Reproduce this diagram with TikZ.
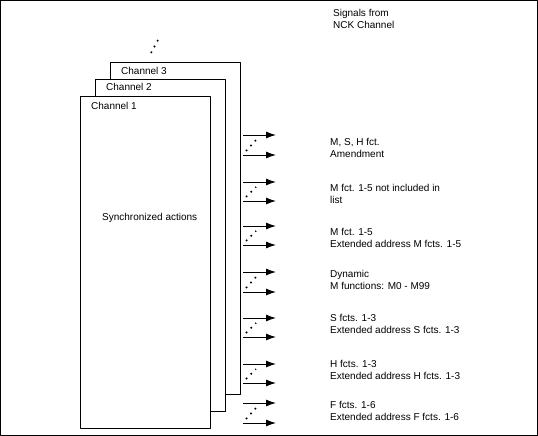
\documentclass[tikz,border=0pt]{standalone}
\usepackage{fontspec}
\setmainfont{Liberation Sans}
\usetikzlibrary{arrows.meta}

\begin{document}
\begin{tikzpicture}[x=1pt,y=-1pt,line join=round,
    txt/.style={anchor=west,inner sep=0pt,align=left,font=\fontsize{10}{12}\selectfont},
    chbox/.style={draw,fill=white,line width=1pt,anchor=north west,inner sep=0pt,
      minimum width=130pt,minimum height=332pt},
    sig/.style={line width=1pt,-{Latex[length=10pt,width=7pt]}},
    dots/.style={line width=1.6pt,dash pattern=on 1.6pt off 5pt}]
  \draw[line width=1pt] (0.5,0.5) rectangle (537.5,435.5);
  % stacked channels, back to front
  \node[chbox] (ch3) at (110,62) {};
  \node[chbox] (ch2) at (95,79) {};
  \node[chbox] (ch1) at (80,96) {};
  \node[txt] (ch3lbl) at (121,71) {Channel 3};
  \node[txt] (ch2lbl) at (106,87) {Channel 2};
  \node[txt] (ch1lbl) at (91,106) {Channel 1};
  \node[txt] (sync) at (102,218) {Synchronized actions};
  \coordinate (more1) at (151,53);
  \coordinate (more2) at (158,40);
  \draw[dots] (more1) -- (more2);
  \node[txt] (head) at (333,19) {Signals from\\NCK Channel};
  % signal pairs
  \foreach \ya/\yb/\yt/\txt [count=\i] in {
      135/155/147.5/{M, S, H fct.\\Amendment},
      182/201/193.5/{M fct. 1-5 not included in\\list},
      226/245/237.5/{M fct. 1-5\\Extended address M fcts. 1-5},
      272/292/280/{Dynamic\\M functions: M0 - M99},
      318/337/324/{S fcts. 1-3\\Extended address S fcts. 1-3},
      364/383/370/{H fcts. 1-3\\Extended address H fcts. 1-3},
      403/423/411/{F fcts. 1-6\\Extended address F fcts. 1-6}} {
    \coordinate (a\i) at (243,\ya);
    \coordinate (b\i) at (243,\yb);
    \coordinate (ae\i) at (276,\ya);
    \coordinate (be\i) at (276,\yb);
    \draw[sig] (a\i) -- (ae\i);
    \draw[sig] (b\i) -- (be\i);
    \draw[dots] ([shift={(3,-4)}]b\i) -- ([shift={(13,5)}]a\i);
    \node[txt] (sig\i) at (330,\yt) {\txt};
  }
\end{tikzpicture}
\end{document}
